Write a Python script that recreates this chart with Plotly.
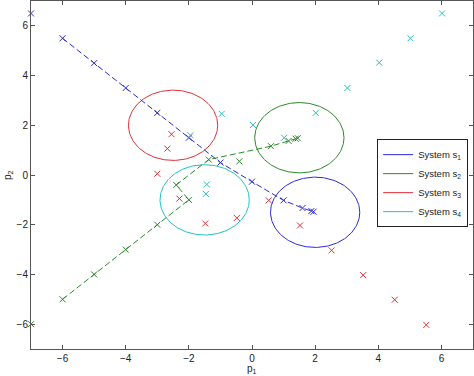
import numpy as np
import plotly.graph_objects as go

# ---- data ----
systems = ["System s<sub>1</sub>", "System s<sub>2</sub>", "System s<sub>3</sub>", "System s<sub>4</sub>"]
colors = ["#2b2bdc", "#2a8a2a", "#e0303a", "#28c0c0"]
centers_x = [2.0, 1.5, -2.5, -1.5]
centers_y = [-1.5, 1.5, 2.0, -1.0]
radius = 1.414

s1_traj_x = [-6, -5, -4, -3, -2, -1, 0, 1, 1.6, 1.88, 1.95]
s1_traj_y = [5.5, 4.5, 3.5, 2.5, 1.5, 0.5, -0.27, -1.02, -1.33, -1.45, -1.48]
s1_pts_x = [-7]
s1_pts_y = [6.5]

s2_traj_x = [-6, -5, -4, -3, -2, -2.4, -1.37, 0.6, 1.16, 1.38, 1.45]
s2_traj_y = [-5, -4, -3, -2, -1, -0.4, 0.62, 1.16, 1.37, 1.46, 1.48]
s2_pts_x = [-7, -0.4]
s2_pts_y = [-6, 0.55]

s3_pts_x = [-2.55, -2.68, -3, -2.3, -1.48, -0.48, 0.53, 1.52, 2.52, 3.52, 4.52, 5.52]
s3_pts_y = [1.64, 1.06, 0.05, -0.95, -1.95, -1.73, -1.02, -2.03, -3.03, -4.03, -5.02, -6.03]

s4_pts_x = [-1.95, -0.96, 0.03, 1.02, 2.02, 3.02, 4.03, 5.02, 6.02, -1.43, -1.46]
s4_pts_y = [1.6, 2.46, 2.01, 1.5, 2.5, 3.5, 4.52, 5.5, 6.5, -0.38, -0.76]

x_ticks = [-6, -4, -2, 0, 2, 4, 6]
y_ticks = [-6, -4, -2, 0, 2, 4, 6]

fig = go.Figure()

def marker(c):
    return dict(symbol="x-thin", size=6, line=dict(color=c, width=1), color=c)

# ellipses (legend entries)
t = np.linspace(0, 2 * np.pi, 200)
for name, c, cx, cy in zip(systems, colors, centers_x, centers_y):
    fig.add_trace(go.Scatter(x=cx + radius * np.cos(t), y=cy + radius * np.sin(t),
                             mode="lines", line=dict(color=c, width=1), name=name,
                             hoverinfo="skip"))

# trajectories
fig.add_trace(go.Scatter(x=s1_traj_x, y=s1_traj_y, mode="lines+markers",
                         line=dict(color=colors[0], width=1, dash="6px,3px"),
                         marker=marker(colors[0]), showlegend=False, cliponaxis=False))
fig.add_trace(go.Scatter(x=s2_traj_x, y=s2_traj_y, mode="lines+markers",
                         line=dict(color=colors[1], width=1, dash="6px,3px"),
                         marker=marker(colors[1]), showlegend=False, cliponaxis=False))

# points
for px, py, c in [(s1_pts_x, s1_pts_y, colors[0]), (s2_pts_x, s2_pts_y, colors[1]),
                  (s3_pts_x, s3_pts_y, colors[2]), (s4_pts_x, s4_pts_y, colors[3])]:
    fig.add_trace(go.Scatter(x=px, y=py, mode="markers", marker=marker(c),
                             showlegend=False, cliponaxis=False))

axis_common = dict(range=[-7, 7], showgrid=False, zeroline=False, showline=True,
                   linecolor="#555555", linewidth=1, mirror="allticks", ticks="inside",
                   ticklen=4, tickcolor="#555555", tickfont=dict(size=10, color="#222222"),
                   automargin=False)

fig.update_layout(
    width=474, height=376,
    margin=dict(l=31, r=1, t=1, b=27),
    plot_bgcolor="white", paper_bgcolor="white",
    font=dict(family="Liberation Sans, Arial, sans-serif", size=10, color="#222222"),
    xaxis=dict(**axis_common, tickvals=x_ticks),
    yaxis=dict(**axis_common, tickvals=y_ticks),
    legend=dict(x=0.989, y=0.603, xanchor="right", yanchor="top",
                bgcolor="white", bordercolor="#222222", borderwidth=1,
                font=dict(size=9.5), tracegroupgap=0, itemwidth=30),
    showlegend=True,
    annotations=[
        dict(text="p<sub>1</sub>", xref="paper", yref="paper", x=0.5, y=-0.0776,
             xanchor="center", yanchor="bottom", showarrow=False, borderpad=0,
             font=dict(size=10)),
        dict(text="p<sub>2</sub>", xref="paper", yref="paper", x=-0.052, y=0.5,
             xanchor="center", yanchor="middle", showarrow=False, textangle=-90,
             font=dict(size=10)),
    ],
)

fig.write_html("out.html", config={"displayModeBar": False},
               post_script="document.body.style.margin='0';")
